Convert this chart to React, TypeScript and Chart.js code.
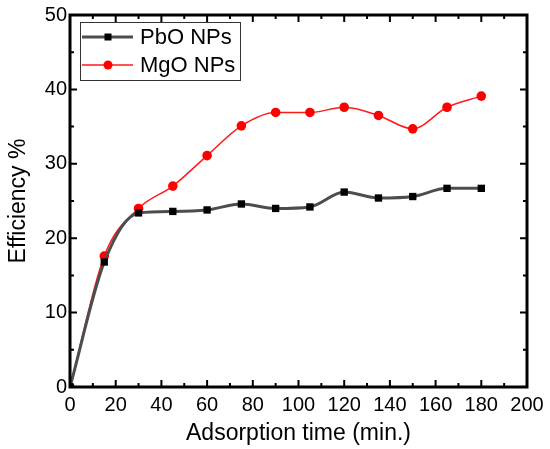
import React, { useEffect, useRef } from "react";
import { Chart, registerables } from "chart.js";

Chart.register(...registerables);

const times = [0, 15, 30, 45, 60, 75, 90, 105, 120, 135, 150, 165, 180];
const pboValues = [0, 16.8, 23.4, 23.6, 23.8, 24.6, 24.0, 24.2, 26.2, 25.4, 25.6, 26.7, 26.7];
const mgoValues = [0, 17.6, 24.0, 27.0, 31.1, 35.1, 36.9, 36.9, 37.6, 36.5, 34.7, 37.6, 39.1];
const seriesNames = ["PbO NPs", "MgO NPs"];

const FONT = "'Liberation Sans', Arial, sans-serif";

// frame + inward ticks on all four sides
const framePlugin = {
  id: "frame",
  afterDatasetsDraw(chart: any) {
    const { ctx, chartArea } = chart;
    const { left, right, top, bottom } = chartArea;
    const xs = chart.scales.x;
    const ys = chart.scales.y;
    ctx.save();
    ctx.strokeStyle = "#000";
    ctx.lineWidth = 2;
    ctx.beginPath();
    const xt = xs.ticks.map((t: any) => t.value);
    for (let i = 0; i < xt.length; i++) {
      const px = xs.getPixelForValue(xt[i]);
      ctx.moveTo(px, bottom);
      ctx.lineTo(px, bottom - 7);
      ctx.moveTo(px, top);
      ctx.lineTo(px, top + 7);
      if (i < xt.length - 1) {
        const mx = xs.getPixelForValue((xt[i] + xt[i + 1]) / 2);
        ctx.moveTo(mx, bottom);
        ctx.lineTo(mx, bottom - 4);
        ctx.moveTo(mx, top);
        ctx.lineTo(mx, top + 4);
      }
    }
    const yt = ys.ticks.map((t: any) => t.value);
    for (let i = 0; i < yt.length; i++) {
      const py = ys.getPixelForValue(yt[i]);
      ctx.moveTo(left, py);
      ctx.lineTo(left + 7, py);
      ctx.moveTo(right, py);
      ctx.lineTo(right - 7, py);
      if (i < yt.length - 1) {
        const my = ys.getPixelForValue((yt[i] + yt[i + 1]) / 2);
        ctx.moveTo(left, my);
        ctx.lineTo(left + 4, my);
        ctx.moveTo(right, my);
        ctx.lineTo(right - 4, my);
      }
    }
    ctx.stroke();
    ctx.lineWidth = 3;
    ctx.strokeRect(left, top, right - left, bottom - top);
    ctx.restore();
  },
};

// boxed legend inside the plot, line + marker for each series
const legendPlugin = {
  id: "boxLegend",
  afterDraw(chart: any) {
    const { ctx, chartArea } = chart;
    const x0 = chartArea.left + 10;
    const y0 = chartArea.top + 7;
    ctx.save();
    ctx.fillStyle = "#fff";
    ctx.fillRect(x0, y0, 160, 58);
    ctx.strokeStyle = "#333";
    ctx.lineWidth = 1;
    ctx.strokeRect(x0 + 0.5, y0 + 0.5, 160, 58);
    chart.data.datasets.forEach((ds: any, i: number) => {
      const cy = y0 + 15 + i * 28;
      ctx.strokeStyle = ds.borderColor;
      ctx.lineWidth = ds.borderWidth;
      ctx.beginPath();
      ctx.moveTo(x0 + 2, cy);
      ctx.lineTo(x0 + 53, cy);
      ctx.stroke();
      ctx.fillStyle = ds.pointBackgroundColor;
      if (ds.pointStyle === "rect") {
        ctx.fillRect(x0 + 28 - 3.5, cy - 3.5, 7, 7);
      } else {
        ctx.beginPath();
        ctx.arc(x0 + 28, cy, 4.5, 0, Math.PI * 2);
        ctx.fill();
      }
      ctx.fillStyle = "#000";
      ctx.font = `22px ${FONT}`;
      ctx.textBaseline = "middle";
      ctx.fillText(ds.label, x0 + 60, cy + 1);
    });
    ctx.restore();
  },
};

const App: React.FC = () => {
  const chartRef = useRef<HTMLCanvasElement>(null);
  const chartInstance = useRef<Chart | null>(null);

  useEffect(() => {
    document.body.style.margin = "0";
    if (!chartRef.current) return;
    const ctx = chartRef.current.getContext("2d");
    if (!ctx) return;
    if (chartInstance.current) chartInstance.current.destroy();

    chartInstance.current = new Chart(ctx, {
      type: "line",
      data: {
        datasets: [
          {
            label: seriesNames[0],
            data: times.map((t, i) => ({ x: t, y: pboValues[i] })),
            borderColor: "#4d4d4d",
            borderWidth: 3,
            pointStyle: "rect",
            pointRadius: 5.2,
            pointBackgroundColor: "#000",
            pointBorderWidth: 0,
            cubicInterpolationMode: "monotone",
          },
          {
            label: seriesNames[1],
            data: times.map((t, i) => ({ x: t, y: mgoValues[i] })),
            borderColor: "#ff1a1a",
            borderWidth: 1.5,
            pointStyle: "circle",
            pointRadius: 4.8,
            pointBackgroundColor: "#ff0000",
            pointBorderWidth: 0,
            cubicInterpolationMode: "monotone",
          },
        ],
      },
      options: {
        animation: false,
        responsive: false,
        layout: { padding: { top: 15, right: 23, left: 0, bottom: 0 } },
        plugins: {
          legend: { display: false },
          tooltip: { enabled: false },
        },
        scales: {
          x: {
            type: "linear",
            min: 0,
            max: 200,
            grid: { display: false, drawTicks: false },
            border: { display: false },
            ticks: {
              stepSize: 20,
              color: "#000",
              font: { family: FONT, size: 20 },
              padding: 6,
              maxRotation: 0,
            },
            title: {
              display: true,
              text: "Adsorption time (min.)",
              color: "#000",
              font: { family: FONT, size: 23 },
              padding: { top: 0, bottom: 2 },
            },
            afterFit: (scale: any) => {
              scale.height = 62;
            },
          },
          y: {
            min: 0,
            max: 50,
            grid: { display: false, drawTicks: false },
            border: { display: false },
            ticks: {
              stepSize: 10,
              color: "#000",
              font: { family: FONT, size: 20 },
              padding: 3,
            },
            title: {
              display: true,
              text: "Efficiency %",
              color: "#000",
              font: { family: FONT, size: 23 },
              padding: { top: 5, bottom: 5 },
            },
            afterFit: (scale: any) => {
              scale.width = 70;
            },
          },
        },
      },
      plugins: [framePlugin, legendPlugin],
    });

    return () => {
      if (chartInstance.current) {
        chartInstance.current.destroy();
        chartInstance.current = null;
      }
    };
  }, []);

  return (
    <div style={{ width: 550, height: 449, background: "#fff" }}>
      <canvas ref={chartRef} width={550} height={449}></canvas>
    </div>
  );
};

export default App;
